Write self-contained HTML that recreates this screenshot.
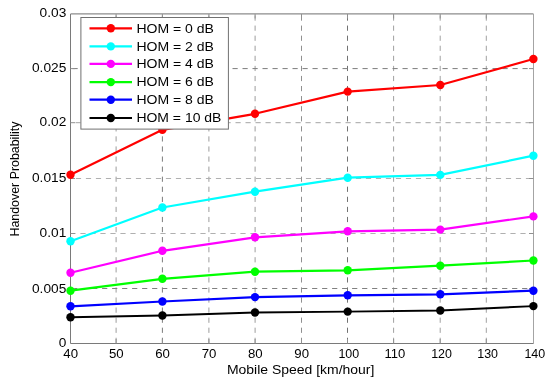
<!DOCTYPE html>
<html><head><meta charset="utf-8"><title>Handover Probability</title>
<style>html,body{margin:0;padding:0;background:#fff}body{width:550px;height:379px;overflow:hidden}</style>
</head><body>
<svg width="550" height="379" viewBox="0 0 550 379" style="display:block;font-family:'Liberation Sans',Arial,sans-serif">
<rect width="550" height="379" fill="#fff"/>
<path d="M116.1 14.0V343.5" stroke="#9c9c9c" stroke-width="1" stroke-dasharray="5.2 4.87" stroke-dashoffset="-1.5" fill="none"/>
<path d="M162.4 14.0V343.5" stroke="#7c7c7c" stroke-width="1" stroke-dasharray="5.2 4.87" stroke-dashoffset="-1.5" fill="none"/>
<path d="M208.9 14.0V343.5" stroke="#9c9c9c" stroke-width="1" stroke-dasharray="5.2 4.87" stroke-dashoffset="-1.5" fill="none"/>
<path d="M255.1 14.0V343.5" stroke="#9c9c9c" stroke-width="1" stroke-dasharray="5.2 4.87" stroke-dashoffset="-1.5" fill="none"/>
<path d="M301.5 14.0V343.5" stroke="#909090" stroke-width="1" stroke-dasharray="5.2 4.87" stroke-dashoffset="-1.5" fill="none"/>
<path d="M347.5 14.0V343.5" stroke="#727272" stroke-width="1" stroke-dasharray="5.2 4.87" stroke-dashoffset="-1.5" fill="none"/>
<path d="M393.6 14.0V343.5" stroke="#a0a0a0" stroke-width="1" stroke-dasharray="5.2 4.87" stroke-dashoffset="-1.5" fill="none"/>
<path d="M440.2 14.0V343.5" stroke="#a0a0a0" stroke-width="1" stroke-dasharray="5.2 4.87" stroke-dashoffset="-1.5" fill="none"/>
<path d="M486.3 14.0V343.5" stroke="#a0a0a0" stroke-width="1" stroke-dasharray="5.2 4.87" stroke-dashoffset="-1.5" fill="none"/>
<path d="M70.5 288.5H533.5" stroke="#808080" stroke-width="1" stroke-dasharray="5.2 4.8" stroke-dashoffset="-1.6" fill="none"/>
<path d="M70.5 233.5H533.5" stroke="#b0b0b0" stroke-width="1" stroke-dasharray="5.2 4.8" stroke-dashoffset="-9.9" fill="none"/>
<path d="M70.5 178.5H533.5" stroke="#b0b0b0" stroke-width="1" stroke-dasharray="5.2 4.8" stroke-dashoffset="-5.4" fill="none"/>
<path d="M70.5 122.7H533.5" stroke="#a4a4a4" stroke-width="1" stroke-dasharray="5.2 4.8" stroke-dashoffset="-5.0" fill="none"/>
<path d="M70.5 68.6H533.5" stroke="#7c7c7c" stroke-width="1" stroke-dasharray="5.2 4.8" stroke-dashoffset="-2.0" fill="none"/>
<path d="M70.5 13.95H533.5" fill="none" stroke="#8c8c8c" stroke-width="1.3"/>
<path d="M533.5 14.0V343.5" fill="none" stroke="#a4a4a4" stroke-width="1"/>
<path d="M70.5 14.0V343.5H533.5" fill="none" stroke="#7a7a7a" stroke-width="1"/>
<path d="M116.10 343.50v-4.5M116.10 14.00v4.5M162.40 343.50v-4.5M162.40 14.00v4.5M208.90 343.50v-4.5M208.90 14.00v4.5M255.10 343.50v-4.5M255.10 14.00v4.5M301.50 343.50v-4.5M301.50 14.00v4.5M347.50 343.50v-4.5M347.50 14.00v4.5M393.60 343.50v-4.5M393.60 14.00v4.5M440.20 343.50v-4.5M440.20 14.00v4.5M486.30 343.50v-4.5M486.30 14.00v4.5M70.50 288.50h4.5M533.50 288.50h-4.5M70.50 233.50h4.5M533.50 233.50h-4.5M70.50 178.50h4.5M533.50 178.50h-4.5M70.50 122.70h4.5M533.50 122.70h-4.5M70.50 68.60h4.5M533.50 68.60h-4.5" stroke="#909090" stroke-width="1" fill="none"/>
<polyline points="70.50,174.80 162.40,129.80 255.00,113.80 347.70,91.60 440.30,85.00 533.40,59.05" fill="none" stroke="#ff0000" stroke-width="2.2" stroke-linejoin="round"/>
<circle cx="70.50" cy="174.80" r="4.2" fill="#ff0000"/>
<circle cx="162.40" cy="129.80" r="4.2" fill="#ff0000"/>
<circle cx="255.00" cy="113.80" r="4.2" fill="#ff0000"/>
<circle cx="347.70" cy="91.60" r="4.2" fill="#ff0000"/>
<circle cx="440.30" cy="85.00" r="4.2" fill="#ff0000"/>
<circle cx="533.40" cy="59.05" r="4.2" fill="#ff0000"/>
<polyline points="70.50,241.30 162.40,207.50 255.00,191.70 347.70,177.70 440.30,174.90 533.40,155.70" fill="none" stroke="#00ffff" stroke-width="2.2" stroke-linejoin="round"/>
<circle cx="70.50" cy="241.30" r="4.2" fill="#00ffff"/>
<circle cx="162.40" cy="207.50" r="4.2" fill="#00ffff"/>
<circle cx="255.00" cy="191.70" r="4.2" fill="#00ffff"/>
<circle cx="347.70" cy="177.70" r="4.2" fill="#00ffff"/>
<circle cx="440.30" cy="174.90" r="4.2" fill="#00ffff"/>
<circle cx="533.40" cy="155.70" r="4.2" fill="#00ffff"/>
<polyline points="70.50,272.70 162.40,250.80 255.00,237.30 347.70,231.30 440.30,229.60 533.40,216.40" fill="none" stroke="#ff00ff" stroke-width="2.2" stroke-linejoin="round"/>
<circle cx="70.50" cy="272.70" r="4.2" fill="#ff00ff"/>
<circle cx="162.40" cy="250.80" r="4.2" fill="#ff00ff"/>
<circle cx="255.00" cy="237.30" r="4.2" fill="#ff00ff"/>
<circle cx="347.70" cy="231.30" r="4.2" fill="#ff00ff"/>
<circle cx="440.30" cy="229.60" r="4.2" fill="#ff00ff"/>
<circle cx="533.40" cy="216.40" r="4.2" fill="#ff00ff"/>
<polyline points="70.50,290.70 162.40,278.80 255.00,271.70 347.70,270.30 440.30,265.70 533.40,260.50" fill="none" stroke="#00ff00" stroke-width="2.2" stroke-linejoin="round"/>
<circle cx="70.50" cy="290.70" r="4.2" fill="#00ff00"/>
<circle cx="162.40" cy="278.80" r="4.2" fill="#00ff00"/>
<circle cx="255.00" cy="271.70" r="4.2" fill="#00ff00"/>
<circle cx="347.70" cy="270.30" r="4.2" fill="#00ff00"/>
<circle cx="440.30" cy="265.70" r="4.2" fill="#00ff00"/>
<circle cx="533.40" cy="260.50" r="4.2" fill="#00ff00"/>
<polyline points="70.50,306.30 162.40,301.50 255.00,297.10 347.70,295.30 440.30,294.30 533.40,290.70" fill="none" stroke="#0000ff" stroke-width="2.2" stroke-linejoin="round"/>
<circle cx="70.50" cy="306.30" r="4.2" fill="#0000ff"/>
<circle cx="162.40" cy="301.50" r="4.2" fill="#0000ff"/>
<circle cx="255.00" cy="297.10" r="4.2" fill="#0000ff"/>
<circle cx="347.70" cy="295.30" r="4.2" fill="#0000ff"/>
<circle cx="440.30" cy="294.30" r="4.2" fill="#0000ff"/>
<circle cx="533.40" cy="290.70" r="4.2" fill="#0000ff"/>
<polyline points="70.50,317.30 162.40,315.50 255.00,312.50 347.70,311.60 440.30,310.50 533.40,306.10" fill="none" stroke="#000000" stroke-width="1.9" stroke-linejoin="round"/>
<circle cx="70.50" cy="317.30" r="4.2" fill="#000000"/>
<circle cx="162.40" cy="315.50" r="4.2" fill="#000000"/>
<circle cx="255.00" cy="312.50" r="4.2" fill="#000000"/>
<circle cx="347.70" cy="311.60" r="4.2" fill="#000000"/>
<circle cx="440.30" cy="310.50" r="4.2" fill="#000000"/>
<circle cx="533.40" cy="306.10" r="4.2" fill="#000000"/>
<rect x="80.9" y="17.5" width="147.50" height="111.60" fill="#fff" stroke="#707070" stroke-width="1"/>
<path d="M89.5 28.30H132" stroke="#ff0000" stroke-width="2.2"/>
<circle cx="110.8" cy="28.30" r="4.2" fill="#ff0000"/>
<text x="136.4" y="32.60" font-size="12" textLength="77.5" lengthAdjust="spacingAndGlyphs" fill="#000">HOM = 0 dB</text>
<path d="M89.5 46.40H132" stroke="#00ffff" stroke-width="2.2"/>
<circle cx="110.8" cy="46.40" r="4.2" fill="#00ffff"/>
<text x="136.4" y="50.70" font-size="12" textLength="77.5" lengthAdjust="spacingAndGlyphs" fill="#000">HOM = 2 dB</text>
<path d="M89.5 63.90H132" stroke="#ff00ff" stroke-width="2.2"/>
<circle cx="110.8" cy="63.90" r="4.2" fill="#ff00ff"/>
<text x="136.4" y="68.20" font-size="12" textLength="77.5" lengthAdjust="spacingAndGlyphs" fill="#000">HOM = 4 dB</text>
<path d="M89.5 82.10H132" stroke="#00ff00" stroke-width="2.2"/>
<circle cx="110.8" cy="82.10" r="4.2" fill="#00ff00"/>
<text x="136.4" y="86.40" font-size="12" textLength="77.5" lengthAdjust="spacingAndGlyphs" fill="#000">HOM = 6 dB</text>
<path d="M89.5 99.70H132" stroke="#0000ff" stroke-width="2.2"/>
<circle cx="110.8" cy="99.70" r="4.2" fill="#0000ff"/>
<text x="136.4" y="104.00" font-size="12" textLength="77.5" lengthAdjust="spacingAndGlyphs" fill="#000">HOM = 8 dB</text>
<path d="M89.5 118.00H132" stroke="#000000" stroke-width="1.9"/>
<circle cx="110.8" cy="118.00" r="4.2" fill="#000000"/>
<text x="136.4" y="122.30" font-size="12" textLength="85.0" lengthAdjust="spacingAndGlyphs" fill="#000">HOM = 10 dB</text>
<text x="63.35" y="357.6" font-size="12" textLength="14.7" lengthAdjust="spacingAndGlyphs" fill="#000">40</text>
<text x="108.95" y="357.6" font-size="12" textLength="14.7" lengthAdjust="spacingAndGlyphs" fill="#000">50</text>
<text x="155.25" y="357.6" font-size="12" textLength="14.7" lengthAdjust="spacingAndGlyphs" fill="#000">60</text>
<text x="201.75" y="357.6" font-size="12" textLength="14.7" lengthAdjust="spacingAndGlyphs" fill="#000">70</text>
<text x="247.95" y="357.6" font-size="12" textLength="14.7" lengthAdjust="spacingAndGlyphs" fill="#000">80</text>
<text x="294.35" y="357.6" font-size="12" textLength="14.7" lengthAdjust="spacingAndGlyphs" fill="#000">90</text>
<text x="338.45" y="357.6" font-size="12" textLength="20.8" lengthAdjust="spacingAndGlyphs" fill="#000">100</text>
<text x="384.55" y="357.6" font-size="12" textLength="20.8" lengthAdjust="spacingAndGlyphs" fill="#000">110</text>
<text x="431.15" y="357.6" font-size="12" textLength="20.8" lengthAdjust="spacingAndGlyphs" fill="#000">120</text>
<text x="477.25" y="357.6" font-size="12" textLength="20.8" lengthAdjust="spacingAndGlyphs" fill="#000">130</text>
<text x="524.45" y="357.6" font-size="12" textLength="20.8" lengthAdjust="spacingAndGlyphs" fill="#000">140</text>
<text x="58.70" y="347.10" font-size="12" textLength="7.6" lengthAdjust="spacingAndGlyphs" fill="#000">0</text>
<text x="32.00" y="292.60" font-size="12" textLength="34.3" lengthAdjust="spacingAndGlyphs" fill="#000">0.005</text>
<text x="39.60" y="236.90" font-size="12" textLength="26.7" lengthAdjust="spacingAndGlyphs" fill="#000">0.01</text>
<text x="32.00" y="181.80" font-size="12" textLength="34.3" lengthAdjust="spacingAndGlyphs" fill="#000">0.015</text>
<text x="39.60" y="126.30" font-size="12" textLength="26.7" lengthAdjust="spacingAndGlyphs" fill="#000">0.02</text>
<text x="32.00" y="72.15" font-size="12" textLength="34.3" lengthAdjust="spacingAndGlyphs" fill="#000">0.025</text>
<text x="39.60" y="17.40" font-size="12" textLength="26.7" lengthAdjust="spacingAndGlyphs" fill="#000">0.03</text>
<text x="226.9" y="374" font-size="12" textLength="147.5" lengthAdjust="spacingAndGlyphs" fill="#000">Mobile Speed [km/hour]</text>
<text transform="translate(18.5,236.5) rotate(-90)" font-size="13.3" textLength="115" lengthAdjust="spacingAndGlyphs" fill="#000">Handover Probability</text>
</svg>
</body></html>
